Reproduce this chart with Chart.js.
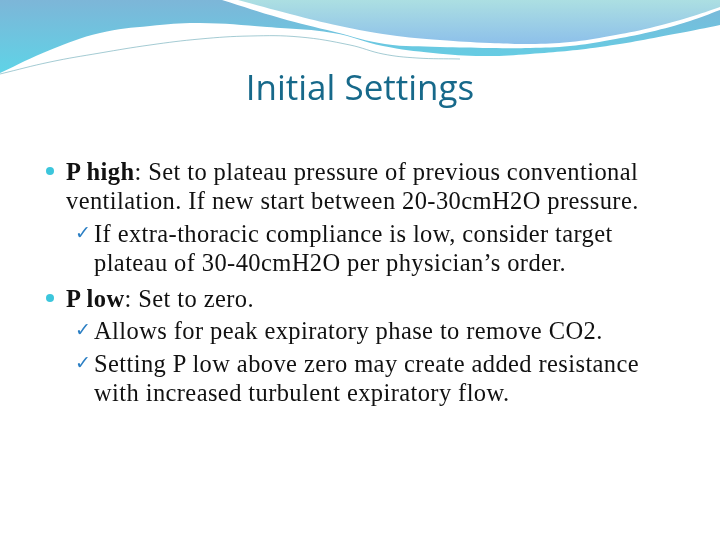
<!DOCTYPE html>
<html>
<head>
<meta charset="utf-8">
<script src="https://cdn.jsdelivr.net/npm/chart.js@4"></script>
<style>
  html, body { margin: 0; padding: 0; background: #fff; }
  #slide { position: relative; width: 720px; height: 540px; overflow: hidden; background: #fff; }
  #waves { position: absolute; left: 0; top: 0; width: 720px; height: 540px; }
  #title { position: absolute; left: 0; top: 63px; width: 720px; text-align: center;
           font-family: "Open Sans", sans-serif; font-size: 35px; color: #17698a; }
  .para { position: absolute; font-family: "Liberation Serif", serif; font-size: 24.5px;
          letter-spacing: 0.4px; line-height: 29px; color: #111; white-space: nowrap; }
  .dot { position: absolute; width: 8px; height: 8px; border-radius: 50%; background: #3cc6dc; }
  .tick { position: absolute; font-family: "DejaVu Sans", sans-serif; font-size: 19px; color: #2b7fc4; }
</style>
</head>
<body>
<div id="slide">
  <div id="waves"><canvas id="waveChart"></canvas></div>
  <div id="title">Initial Settings</div>

  <div class="dot" style="left:46px; top:167px;"></div>
  <div class="para" style="left:66px; top:157px;"><b>P high</b>: Set to plateau pressure of previous conventional<br>ventilation. If new start between 20-30cmH2O pressure.</div>

  <div class="tick" style="left:75px; top:221px;">✓</div>
  <div class="para" style="left:94px; top:219px;">If extra-thoracic compliance is low, consider target<br>plateau of 30-40cmH2O per physician’s order.</div>

  <div class="dot" style="left:46px; top:294px;"></div>
  <div class="para" style="left:66px; top:284px;"><b>P low</b>: Set to zero.</div>

  <div class="tick" style="left:75px; top:318px;">✓</div>
  <div class="para" style="left:94px; top:316px;">Allows for peak expiratory phase to remove CO2.</div>

  <div class="tick" style="left:75px; top:351px;">✓</div>
  <div class="para" style="left:94px; top:349px;">Setting P low above zero may create added resistance<br>with increased turbulent expiratory flow.</div>
</div>

<script>
// header wave shapes (slide pixels, y measured down from top)
const blueX = [0, 50, 100, 150, 200, 267, 333, 383, 433, 483, 530, 600, 680, 720];
const blueY = [73, 50, 33, 26, 23, 27, 33, 46, 53, 56, 54, 47, 33, 25];
const stripeX = [222, 280, 335, 385, 440, 490, 530, 570, 610, 650, 690, 720];
const stripeY = [0, 18, 32, 44, 47, 48, 48, 46, 40, 32, 21, 10];
const aquaX = [238, 290, 340, 390, 440, 490, 530, 570, 610, 650, 690, 720];
const aquaY = [0, 14, 26, 35, 40, 43, 44, 42, 36, 28, 17, 7];
const lineX = [0, 50, 100, 150, 200, 250, 300, 350, 383, 417, 460];
const lineY = [74, 62, 53, 45, 39, 36, 37, 45, 54, 58, 59];

function pts(xs, ys) {
    return xs.map((x, i) => ({ x: x, y: ys[i] }));
}

function vGrad(top, bottom, y1) {
    return (context) => {
        const chart = context.chart;
        if (!chart.chartArea) return top;
        const g = chart.ctx.createLinearGradient(0, 0, 0, y1);
        g.addColorStop(0, top);
        g.addColorStop(1, bottom);
        return g;
    };
}

const ctx = document.getElementById('waveChart').getContext('2d');
const waveChart = new Chart(ctx, {
    type: 'scatter',
    data: {
        datasets: [
            {
                data: pts(aquaX, aquaY),
                showLine: true,
                fill: { value: 0 },
                backgroundColor: vGrad('#acdfe2', '#8cbfea', 45),
                borderWidth: 0,
                pointRadius: 0,
                tension: 0.4,
                order: 1
            },
            {
                data: pts(stripeX, stripeY),
                showLine: true,
                fill: { value: 0 },
                backgroundColor: '#ffffff',
                borderWidth: 0,
                pointRadius: 0,
                tension: 0.4,
                order: 2
            },
            {
                data: pts(blueX, blueY),
                showLine: true,
                fill: { value: 0 },
                backgroundColor: vGrad('#7db6d8', '#60d2e6', 70),
                borderWidth: 0,
                pointRadius: 0,
                tension: 0.4,
                order: 3
            },
            {
                data: pts(lineX, lineY),
                showLine: true,
                fill: false,
                borderColor: 'rgba(90, 160, 175, 0.55)',
                borderWidth: 1,
                pointRadius: 0,
                tension: 0.4,
                order: 4
            }
        ]
    },
    options: {
        responsive: true,
        maintainAspectRatio: false,
        animation: false,
        events: [],
        layout: { padding: 0 },
        plugins: {
            legend: { display: false },
            tooltip: { enabled: false }
        },
        scales: {
            x: { type: 'linear', min: 0, max: 720, display: false },
            y: { type: 'linear', min: 0, max: 540, reverse: true, display: false }
        }
    }
});
</script>
</body>
</html>
